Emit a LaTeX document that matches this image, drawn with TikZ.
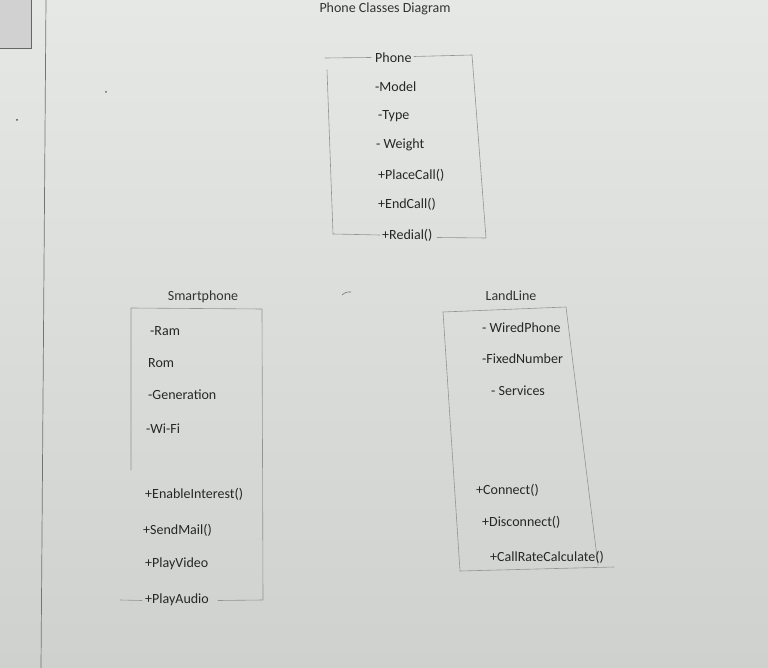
\documentclass[tikz,border=0pt]{standalone}
\usepackage{fontspec}
\setmainfont{Carlito}
\begin{document}
\begin{tikzpicture}[x=1pt,y=-1pt,
  txt/.style={anchor=west,inner sep=0pt,text=black!85,font=\fontsize{14}{16}\selectfont},
  ttl/.style={anchor=center,inner sep=0pt,text=black!80,font=\fontsize{14}{16}\selectfont},
  pen/.style={draw=black!42,line width=0.6pt,line cap=round,line join=round}]
\definecolor{bgtop}{RGB}{230,232,230}
\definecolor{bgbot}{RGB}{206,209,206}
\useasboundingbox (0,0) rectangle (768,668);
\shade[top color=bgtop,bottom color=bgbot] (0,0) rectangle (768,668);
% photo edges at left
\fill[black!18] (0,0) rectangle (32,49);
\draw[black!60,line width=0.8pt] (0,48) -- (31,48) -- (31,0);
\draw[black!55,line width=0.7pt] (46,0) -- (41,668);
\fill[black!70] (17,120) circle (1pt);
\fill[black!60] (106,92) circle (1pt);
\draw[black!55,line width=0.6pt] (342,295) .. controls (346,292) .. (351,292);

% title
\node[ttl] (title) at (385,9) {Phone Classes Diagram};

% ---------- Phone ----------
\coordinate (p1) at (325,58);
\coordinate (p2) at (472,55);
\coordinate (p3) at (486,238);
\coordinate (p4) at (333,234);
\coordinate (pl) at (327,70);
\draw[pen] (p1) -- (371,57.5);
\draw[pen] (414,56.5) -- (p2) -- (p3) -- (437,237.5);
\draw[pen] (380,235) -- (p4) -- (pl);
\node[txt] (phone) at (375,58) {Phone};
\node[txt] (pm1) at (375,87) {-Model};
\node[txt] (pm2) at (378,116) {-Type};
\node[txt] (pm3) at (376,145) {- Weight};
\node[txt] (pm4) at (378,175) {+PlaceCall()};
\node[txt] (pm5) at (378,204) {+EndCall()};
\node[txt] (pm6) at (382,235) {+Redial()};

% ---------- Smartphone ----------
\coordinate (s1) at (131,308);
\coordinate (s2) at (262,309);
\coordinate (s3) at (263,600);
\coordinate (s4) at (120,600);
\coordinate (sl) at (131,470);
\draw[pen] (sl) -- (s1) -- (s2) -- (s3) -- (218,600.5);
\draw[pen] (142,600.5) -- (s4);
\node[ttl] (smart) at (203,297) {Smartphone};
\node[txt] (sm1) at (150,331) {-Ram};
\node[txt] (sm2) at (148,363) {Rom};
\node[txt] (sm3) at (148,395) {-Generation};
\node[txt] (sm4) at (146,429) {-Wi-Fi};
\node[txt] (sm5) at (145,494) {+EnableInterest()};
\node[txt] (sm6) at (143,530) {+SendMail()};
\node[txt] (sm7) at (145,564) {+PlayVideo};
\node[txt] (sm8) at (145,600) {+PlayAudio};

% ---------- LandLine ----------
\coordinate (l1) at (443,312);
\coordinate (l2) at (566,307);
\coordinate (l3) at (598,565);
\coordinate (l4) at (614,567);
\coordinate (l5) at (460,571);
\draw[pen] (l1) -- (l2) -- (l3);
\draw[pen] (l4) -- (l5) -- (l1);
\node[ttl] (land) at (511,296) {LandLine};
\node[txt] (lm1) at (482,328) {- WiredPhone};
\node[txt] (lm2) at (482,359) {-FixedNumber};
\node[txt] (lm3) at (491,391) {- Services};
\node[txt] (lm4) at (476,490) {+Connect()};
\node[txt] (lm5) at (482,522) {+Disconnect()};
\node[txt] (lm6) at (490,557) {+CallRateCalculate()};
\end{tikzpicture}
\end{document}
